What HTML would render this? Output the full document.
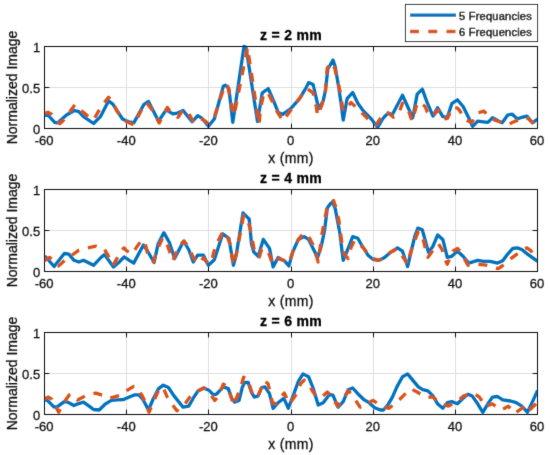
<!DOCTYPE html>
<html><head><meta charset="utf-8"><title>Normalized Image</title>
<style>html,body{margin:0;padding:0;background:#fff;width:550px;height:455px;overflow:hidden}
svg{display:block;font-family:'Liberation Sans', Arial, Helvetica, sans-serif;} text{stroke-width:0.3px}</style></head>
<body>
<svg width="550" height="455" viewBox="0 0 550 455">
<rect width="550" height="455" fill="#fff"/>
<filter id="bl" x="0" y="0" width="550" height="455" filterUnits="userSpaceOnUse"><feConvolveMatrix order="3" kernelMatrix="0.0100 0.0800 0.0100 0.0800 0.6400 0.0800 0.0100 0.0800 0.0100" edgeMode="duplicate"/></filter><g filter="url(#bl)">
<line x1="126.5" y1="46.5" x2="126.5" y2="128.5" stroke="#dfdfdf" stroke-width="1"/>
<line x1="208.5" y1="46.5" x2="208.5" y2="128.5" stroke="#dfdfdf" stroke-width="1"/>
<line x1="291.5" y1="46.5" x2="291.5" y2="128.5" stroke="#dfdfdf" stroke-width="1"/>
<line x1="373.5" y1="46.5" x2="373.5" y2="128.5" stroke="#dfdfdf" stroke-width="1"/>
<line x1="455.5" y1="46.5" x2="455.5" y2="128.5" stroke="#dfdfdf" stroke-width="1"/>
<line x1="44.5" y1="87.5" x2="537.5" y2="87.5" stroke="#dfdfdf" stroke-width="1"/>
<polyline points="44.0,115.6 47.9,115.0 54.7,122.3 57.5,122.9 66.5,115.0 74.4,110.5 78.9,111.6 83.5,116.7 93.6,123.5 100.4,116.7 108.5,100.9 113.0,104.3 122.5,119.0 125.9,120.6 129.3,121.8 133.8,122.9 144.0,104.3 148.5,101.5 158.6,121.2 166.1,109.9 172.9,113.9 177.4,113.1 183.1,110.5 192.1,121.8 197.7,115.6 202.2,118.4 208.4,126.3 214.3,119.0 223.3,86.3 225.5,85.1 228.9,88.5 232.8,122.3 244.0,46.5 246.0,47.3 257.5,121.5 262.2,93.0 268.2,88.5 273.6,100.9 278.1,112.2 282.7,114.4 290.5,108.8 299.6,98.7 306.3,87.4 308.6,82.6 313.1,84.5 318.7,108.8 323.2,100.9 325.5,90.0 327.8,69.3 331.9,62.0 333.0,60.1 335.3,67.0 338.7,87.4 340.9,102.0 343.2,120.1 347.1,98.7 352.7,92.5 357.8,103.2 363.5,111.1 371.4,119.0 377.6,127.4 382.6,119.0 384.5,116.7 387.9,113.3 392.4,114.4 402.5,95.3 408.2,107.7 412.7,117.8 417.2,94.1 422.3,89.1 427.4,103.2 433.0,116.1 437.5,107.7 442.8,116.7 447.3,117.3 451.8,103.7 457.4,99.8 463.1,106.5 468.7,117.8 472.6,126.3 477.7,121.2 483.4,121.8 487.9,122.3 492.4,117.8 497.0,120.1 502.1,122.9 507.7,115.0 512.2,114.2 517.3,119.0 521.8,117.3 526.9,116.1 532.5,122.9 537.6,119.0" fill="none" stroke="#0072bd" stroke-width="3.3" stroke-linejoin="round" stroke-linecap="butt" clip-path="url(#c0)"/>
<polyline points="44.0,113.5 47.9,112.2 51.9,114.4 59.8,123.7 63.7,120.1 75.0,104.6 81.8,111.1 88.5,116.7 93.6,119.9 100.9,107.1 108.5,97.3 111.8,100.3 116.9,111.1 121.4,117.3 125.9,121.2 133.8,125.1 143.4,106.0 146.8,102.9 154.1,112.7 159.2,122.9 167.3,107.4 171.2,112.7 178.0,117.3 183.1,109.7 188.7,113.1 192.6,120.6 197.7,116.7 204.5,120.6 208.4,123.5 214.6,116.1 225.0,84.6 227.8,86.3 234.0,115.6 247.5,47.5 259.2,124.6 260.3,109.6 263.0,97.0 267.1,91.5 271.9,100.5 276.1,110.0 283.0,121.0 289.8,111.5 301.8,95.3 307.0,88.5 313.1,93.0 315.4,100.9 317.6,115.6 322.1,104.3 325.5,90.8 327.2,68.2 331.3,62.5 334.7,68.2 339.8,90.0 343.2,111.1 346.5,107.7 351.1,102.6 356.7,107.7 362.3,113.3 371.4,122.3 376.4,124.6 381.5,116.7 385.6,112.2 388.0,112.7 393.5,117.3 399.2,112.2 402.5,103.2 408.2,110.0 412.1,121.2 417.2,103.2 418.9,102.0 425.1,106.5 427.4,112.2 433.0,116.7 437.5,110.0 442.8,119.0 447.3,118.4 452.9,107.1 457.4,108.2 459.7,110.5 464.2,119.0 469.8,121.8 472.0,122.5 476.6,113.3 483.9,111.1 491.2,119.0 498.1,121.2 502.0,122.5 507.7,124.6 515.1,121.2 520.0,120.0 525.2,117.8 528.0,118.4 532.0,122.3 537.6,119.0" fill="none" stroke="#d95319" stroke-width="3.3" stroke-linejoin="round" stroke-linecap="butt" stroke-dasharray="9 9" clip-path="url(#c0)"/>
<clipPath id="c0"><rect x="44.5" y="43.5" width="493.0" height="85.0"/></clipPath>
<rect x="44.5" y="46.5" width="493.0" height="82.0" fill="none" stroke="#111" stroke-width="1"/>
<path d="M126.5 128.5V123.5M126.5 46.5V51.5M208.5 128.5V123.5M208.5 46.5V51.5M291.5 128.5V123.5M291.5 46.5V51.5M373.5 128.5V123.5M373.5 46.5V51.5M455.5 128.5V123.5M455.5 46.5V51.5M44.5 87.5H49.5M537.5 87.5H532.5" stroke="#111" stroke-width="1" fill="none"/>
<text x="44.10" y="145.0" text-anchor="middle" font-size="13" letter-spacing="0" fill="#111" stroke="#111">-60</text>
<text x="126.27" y="145.0" text-anchor="middle" font-size="13" letter-spacing="0" fill="#111" stroke="#111">-40</text>
<text x="208.43" y="145.0" text-anchor="middle" font-size="13" letter-spacing="0" fill="#111" stroke="#111">-20</text>
<text x="290.60" y="145.0" text-anchor="middle" font-size="13" letter-spacing="0" fill="#111" stroke="#111">0</text>
<text x="372.77" y="145.0" text-anchor="middle" font-size="13" letter-spacing="0" fill="#111" stroke="#111">20</text>
<text x="454.93" y="145.0" text-anchor="middle" font-size="13" letter-spacing="0" fill="#111" stroke="#111">40</text>
<text x="537.10" y="145.0" text-anchor="middle" font-size="13" letter-spacing="0" fill="#111" stroke="#111">60</text>
<text x="40.2" y="133.68" text-anchor="end" font-size="13" letter-spacing="0" fill="#111" stroke="#111">0</text>
<text x="40.2" y="92.68" text-anchor="end" font-size="13" letter-spacing="0" fill="#111" stroke="#111">0.5</text>
<text x="40.2" y="51.68" text-anchor="end" font-size="13" letter-spacing="0" fill="#111" stroke="#111">1</text>
<text x="291.0" y="40.0" text-anchor="middle" font-size="14" font-weight="bold" letter-spacing="0.3" fill="#000" stroke="#000">z = 2 mm</text>
<text x="291.0" y="163.0" text-anchor="middle" font-size="14" letter-spacing="0.3" fill="#111" stroke="#111">x (mm)</text>
<text x="17.4" y="87.5" transform="rotate(-90 17.4 87.5)" text-anchor="middle" font-size="14" letter-spacing="0" fill="#111" stroke="#111">Normalized Image</text>
<line x1="126.5" y1="189.5" x2="126.5" y2="271.5" stroke="#dfdfdf" stroke-width="1"/>
<line x1="208.5" y1="189.5" x2="208.5" y2="271.5" stroke="#dfdfdf" stroke-width="1"/>
<line x1="291.5" y1="189.5" x2="291.5" y2="271.5" stroke="#dfdfdf" stroke-width="1"/>
<line x1="373.5" y1="189.5" x2="373.5" y2="271.5" stroke="#dfdfdf" stroke-width="1"/>
<line x1="455.5" y1="189.5" x2="455.5" y2="271.5" stroke="#dfdfdf" stroke-width="1"/>
<line x1="44.5" y1="230.5" x2="537.5" y2="230.5" stroke="#dfdfdf" stroke-width="1"/>
<polyline points="44.0,257.4 45.7,256.9 54.1,266.5 64.3,253.5 68.8,254.1 73.9,260.3 78.9,262.0 83.5,260.3 93.6,265.3 100.4,258.0 104.5,254.6 113.5,267.0 119.2,262.0 124.2,256.9 129.3,260.3 133.8,263.1 138.3,254.6 143.4,245.0 147.4,250.7 154.1,262.5 158.1,243.9 163.9,232.6 169.5,242.8 174.6,258.6 183.6,241.1 188.7,249.5 193.2,262.0 197.7,255.2 203.4,255.2 208.4,265.3 214.3,259.7 222.7,233.8 228.9,238.3 233.4,265.3 236.2,255.2 243.0,212.9 249.2,219.1 251.5,243.9 253.7,251.8 258.2,256.3 263.3,239.4 269.5,248.4 273.1,267.0 278.1,257.4 284.9,261.4 288.9,265.9 292.8,251.8 298.4,239.4 304.1,236.6 308.6,239.4 313.1,248.4 317.6,257.4 321.0,247.3 324.4,231.5 327.4,207.8 330.8,203.3 332.5,202.2 335.3,208.9 339.8,233.0 343.2,260.3 347.7,249.5 352.7,236.6 357.8,238.3 362.3,246.2 368.0,255.2 373.6,259.7 378.1,260.3 382.6,258.6 384.5,257.5 391.3,251.8 397.5,247.9 402.5,251.2 407.6,266.5 411.6,249.5 414.9,236.0 417.8,228.1 422.3,229.8 428.5,252.4 433.0,246.2 437.7,234.9 442.8,239.4 447.3,257.4 451.8,256.3 457.4,251.2 463.1,256.3 468.7,263.1 477.7,260.3 483.4,261.4 490.1,261.4 497.6,263.1 502.7,260.8 507.7,254.1 512.8,248.4 517.3,247.9 521.8,249.5 527.5,254.1 537.6,261.3" fill="none" stroke="#0072bd" stroke-width="3.3" stroke-linejoin="round" stroke-linecap="butt" clip-path="url(#c1)"/>
<polyline points="44.0,260.8 49.6,257.4 52.0,259.0 58.7,265.9 64.3,260.8 78.9,250.1 88.0,247.9 95.9,246.2 100.0,248.0 103.9,248.4 107.9,255.2 113.0,265.3 116.3,259.7 121.4,250.1 124.2,247.9 126.5,250.7 132.1,254.1 136.1,247.9 141.7,240.0 145.1,242.8 147.4,252.9 153.6,262.0 156.4,251.8 162.8,237.7 167.3,245.0 172.9,260.8 178.5,246.2 184.2,241.1 188.7,247.3 193.2,257.4 198.3,263.6 203.4,258.0 208.4,264.2 212.4,257.4 215.8,245.0 223.3,231.0 226.7,234.9 230.0,243.9 233.4,265.3 236.8,251.8 240.2,233.8 243.6,215.7 247.0,218.0 250.3,229.2 254.8,252.9 259.4,256.9 261.6,249.5 266.1,248.4 269.5,255.2 272.5,264.2 278.1,258.6 284.9,260.8 288.9,263.1 292.8,251.8 298.4,239.4 303.0,233.8 307.5,234.3 313.1,245.0 318.2,262.0 322.1,233.0 327.4,205.5 333.6,200.5 335.3,205.5 338.7,219.1 342.0,243.9 344.3,254.1 348.2,258.6 351.1,247.3 354.4,240.5 358.0,243.0 363.5,247.9 368.0,254.1 373.6,258.6 378.1,260.3 382.6,259.1 390.1,252.4 396.9,249.0 402.5,256.3 407.6,264.2 410.4,252.9 416.1,237.1 418.3,231.5 422.8,238.3 425.1,247.3 427.9,257.4 431.9,251.8 438.6,243.9 442.0,249.5 446.1,262.0 447.3,264.2 452.9,251.2 457.4,248.4 459.7,250.7 464.2,258.6 468.1,265.3 476.6,264.2 484.5,264.8 490.0,266.0 495.8,268.1 498.1,268.7 501.5,266.5 509.4,259.7 515.6,255.2 524.1,249.0 526.9,247.9 530.8,250.7 537.6,259.6" fill="none" stroke="#d95319" stroke-width="3.3" stroke-linejoin="round" stroke-linecap="butt" stroke-dasharray="9 9" clip-path="url(#c1)"/>
<clipPath id="c1"><rect x="44.5" y="186.5" width="493.0" height="85.0"/></clipPath>
<rect x="44.5" y="189.5" width="493.0" height="82.0" fill="none" stroke="#111" stroke-width="1"/>
<path d="M126.5 271.5V266.5M126.5 189.5V194.5M208.5 271.5V266.5M208.5 189.5V194.5M291.5 271.5V266.5M291.5 189.5V194.5M373.5 271.5V266.5M373.5 189.5V194.5M455.5 271.5V266.5M455.5 189.5V194.5M44.5 230.5H49.5M537.5 230.5H532.5" stroke="#111" stroke-width="1" fill="none"/>
<text x="44.10" y="288.0" text-anchor="middle" font-size="13" letter-spacing="0" fill="#111" stroke="#111">-60</text>
<text x="126.27" y="288.0" text-anchor="middle" font-size="13" letter-spacing="0" fill="#111" stroke="#111">-40</text>
<text x="208.43" y="288.0" text-anchor="middle" font-size="13" letter-spacing="0" fill="#111" stroke="#111">-20</text>
<text x="290.60" y="288.0" text-anchor="middle" font-size="13" letter-spacing="0" fill="#111" stroke="#111">0</text>
<text x="372.77" y="288.0" text-anchor="middle" font-size="13" letter-spacing="0" fill="#111" stroke="#111">20</text>
<text x="454.93" y="288.0" text-anchor="middle" font-size="13" letter-spacing="0" fill="#111" stroke="#111">40</text>
<text x="537.10" y="288.0" text-anchor="middle" font-size="13" letter-spacing="0" fill="#111" stroke="#111">60</text>
<text x="40.2" y="276.68" text-anchor="end" font-size="13" letter-spacing="0" fill="#111" stroke="#111">0</text>
<text x="40.2" y="235.68" text-anchor="end" font-size="13" letter-spacing="0" fill="#111" stroke="#111">0.5</text>
<text x="40.2" y="194.68" text-anchor="end" font-size="13" letter-spacing="0" fill="#111" stroke="#111">1</text>
<text x="291.0" y="183.0" text-anchor="middle" font-size="14" font-weight="bold" letter-spacing="0.3" fill="#000" stroke="#000">z = 4 mm</text>
<text x="291.0" y="306.0" text-anchor="middle" font-size="14" letter-spacing="0.3" fill="#111" stroke="#111">x (mm)</text>
<text x="17.4" y="230.5" transform="rotate(-90 17.4 230.5)" text-anchor="middle" font-size="14" letter-spacing="0" fill="#111" stroke="#111">Normalized Image</text>
<line x1="126.5" y1="332.5" x2="126.5" y2="414.5" stroke="#dfdfdf" stroke-width="1"/>
<line x1="208.5" y1="332.5" x2="208.5" y2="414.5" stroke="#dfdfdf" stroke-width="1"/>
<line x1="291.5" y1="332.5" x2="291.5" y2="414.5" stroke="#dfdfdf" stroke-width="1"/>
<line x1="373.5" y1="332.5" x2="373.5" y2="414.5" stroke="#dfdfdf" stroke-width="1"/>
<line x1="455.5" y1="332.5" x2="455.5" y2="414.5" stroke="#dfdfdf" stroke-width="1"/>
<line x1="44.5" y1="373.5" x2="537.5" y2="373.5" stroke="#dfdfdf" stroke-width="1"/>
<polyline points="44.0,399.9 47.4,400.4 54.1,407.2 57.5,406.6 64.3,401.6 67.7,402.1 73.9,405.5 77.8,403.8 83.5,402.1 89.1,406.1 93.6,409.5 99.2,410.0 105.6,403.8 111.3,400.4 116.9,399.9 123.7,399.5 129.3,397.1 135.0,394.8 138.9,394.8 142.8,399.3 148.5,410.0 153.0,399.3 158.6,388.6 163.3,385.2 168.4,387.5 174.0,395.9 183.1,407.2 188.7,406.1 193.2,398.2 197.7,391.4 203.4,388.0 209.0,390.3 213.5,394.8 216.5,394.2 223.3,386.9 228.3,388.6 231.2,397.1 234.5,402.1 239.1,400.4 242.4,386.9 244.7,382.4 248.1,382.4 251.5,392.5 254.3,397.1 258.2,395.9 261.6,387.5 265.0,386.9 269.5,393.7 273.1,408.3 278.1,402.7 283.8,398.2 288.3,408.3 293.9,393.7 298.4,381.3 303.0,373.9 308.6,376.8 313.1,388.0 318.2,405.0 323.2,402.7 329.6,394.2 333.0,395.4 338.1,407.2 343.2,401.6 348.2,389.7 352.7,388.0 357.8,393.7 363.5,399.3 369.1,402.7 374.7,407.8 380.4,410.0 383.4,410.0 387.9,404.9 392.4,397.1 396.9,386.9 402.5,376.8 407.6,373.9 412.7,380.1 418.3,386.9 422.8,389.7 427.9,390.9 433.0,395.9 437.5,403.8 442.8,408.3 447.3,402.7 451.8,401.6 457.4,403.8 463.1,398.2 468.1,394.2 472.1,395.9 477.7,403.8 482.8,412.3 487.9,403.8 492.5,397.1 497.6,396.5 502.7,399.9 510.5,401.0 516.2,402.7 521.8,406.1 527.5,412.3 533.1,400.4 537.6,390.3" fill="none" stroke="#0072bd" stroke-width="3.3" stroke-linejoin="round" stroke-linecap="butt" clip-path="url(#c2)"/>
<polyline points="44.0,398.7 48.5,397.1 51.9,399.3 58.7,412.3 63.7,402.7 69.4,394.8 71.0,394.0 77.5,400.0 86.3,395.4 95.9,393.1 103.2,395.4 108.5,398.2 113.5,397.1 120.3,395.4 128.2,389.7 133.8,386.3 136.1,386.9 141.7,394.8 145.1,401.6 149.0,412.3 154.1,400.4 158.6,390.3 162.8,386.9 167.3,397.1 171.8,403.8 176.9,410.8 184.2,405.0 189.8,397.1 196.0,391.4 204.5,388.0 209.0,392.5 214.8,400.5 218.8,395.9 223.3,384.1 227.8,386.9 231.2,397.1 233.4,405.5 236.8,397.1 240.2,389.2 243.6,377.3 247.5,378.5 252.6,394.8 257.1,397.6 260.5,390.3 263.9,380.7 268.0,383.5 272.5,402.7 274.8,403.8 284.3,393.1 289.4,403.8 292.8,399.3 297.3,392.5 300.7,383.5 304.1,380.1 306.9,381.3 312.0,390.3 316.5,397.1 322.1,396.5 327.4,392.0 334.1,399.9 337.5,406.1 343.2,397.6 348.8,390.9 355.0,399.3 360.1,407.2 366.3,403.8 373.0,400.4 381.5,406.1 389.0,408.3 396.9,402.1 403.7,395.4 410.4,388.6 417.2,392.0 425.1,397.1 433.0,397.1 437.5,401.0 442.0,403.8 448.4,406.1 458.5,400.4 463.6,395.9 473.2,393.1 479.4,397.1 485.6,406.6 492.4,403.8 497.0,407.5 501.5,410.0 508.3,406.1 514.5,413.4 521.8,408.3 526.0,405.0 529.5,410.0 536.5,403.3 537.6,402.5" fill="none" stroke="#d95319" stroke-width="3.3" stroke-linejoin="round" stroke-linecap="butt" stroke-dasharray="9 9" clip-path="url(#c2)"/>
<clipPath id="c2"><rect x="44.5" y="329.5" width="493.0" height="85.0"/></clipPath>
<rect x="44.5" y="332.5" width="493.0" height="82.0" fill="none" stroke="#111" stroke-width="1"/>
<path d="M126.5 414.5V409.5M126.5 332.5V337.5M208.5 414.5V409.5M208.5 332.5V337.5M291.5 414.5V409.5M291.5 332.5V337.5M373.5 414.5V409.5M373.5 332.5V337.5M455.5 414.5V409.5M455.5 332.5V337.5M44.5 373.5H49.5M537.5 373.5H532.5" stroke="#111" stroke-width="1" fill="none"/>
<text x="44.10" y="431.0" text-anchor="middle" font-size="13" letter-spacing="0" fill="#111" stroke="#111">-60</text>
<text x="126.27" y="431.0" text-anchor="middle" font-size="13" letter-spacing="0" fill="#111" stroke="#111">-40</text>
<text x="208.43" y="431.0" text-anchor="middle" font-size="13" letter-spacing="0" fill="#111" stroke="#111">-20</text>
<text x="290.60" y="431.0" text-anchor="middle" font-size="13" letter-spacing="0" fill="#111" stroke="#111">0</text>
<text x="372.77" y="431.0" text-anchor="middle" font-size="13" letter-spacing="0" fill="#111" stroke="#111">20</text>
<text x="454.93" y="431.0" text-anchor="middle" font-size="13" letter-spacing="0" fill="#111" stroke="#111">40</text>
<text x="537.10" y="431.0" text-anchor="middle" font-size="13" letter-spacing="0" fill="#111" stroke="#111">60</text>
<text x="40.2" y="419.68" text-anchor="end" font-size="13" letter-spacing="0" fill="#111" stroke="#111">0</text>
<text x="40.2" y="378.68" text-anchor="end" font-size="13" letter-spacing="0" fill="#111" stroke="#111">0.5</text>
<text x="40.2" y="337.68" text-anchor="end" font-size="13" letter-spacing="0" fill="#111" stroke="#111">1</text>
<text x="291.0" y="326.0" text-anchor="middle" font-size="14" font-weight="bold" letter-spacing="0.3" fill="#000" stroke="#000">z = 6 mm</text>
<text x="291.0" y="449.0" text-anchor="middle" font-size="14" letter-spacing="0.3" fill="#111" stroke="#111">x (mm)</text>
<text x="17.4" y="373.5" transform="rotate(-90 17.4 373.5)" text-anchor="middle" font-size="14" letter-spacing="0" fill="#111" stroke="#111">Normalized Image</text>
<rect x="405.5" y="4.5" width="132" height="37" fill="#fff" stroke="#111" stroke-width="1"/>
<line x1="410" y1="15.1" x2="456" y2="15.1" stroke="#0072bd" stroke-width="3.3"/>
<line x1="410" y1="31.5" x2="456" y2="31.5" stroke="#d95319" stroke-width="3.3" stroke-dasharray="9 9.25"/>
<text x="459" y="20" font-size="11" letter-spacing="0.25" fill="#000" stroke="#000" style="stroke-width:0.5px">5 Frequancies</text>
<text x="459" y="36" font-size="11" letter-spacing="0.25" fill="#000" stroke="#000" style="stroke-width:0.5px">6 Frequencies</text>
</g>
</svg>
</body></html>
